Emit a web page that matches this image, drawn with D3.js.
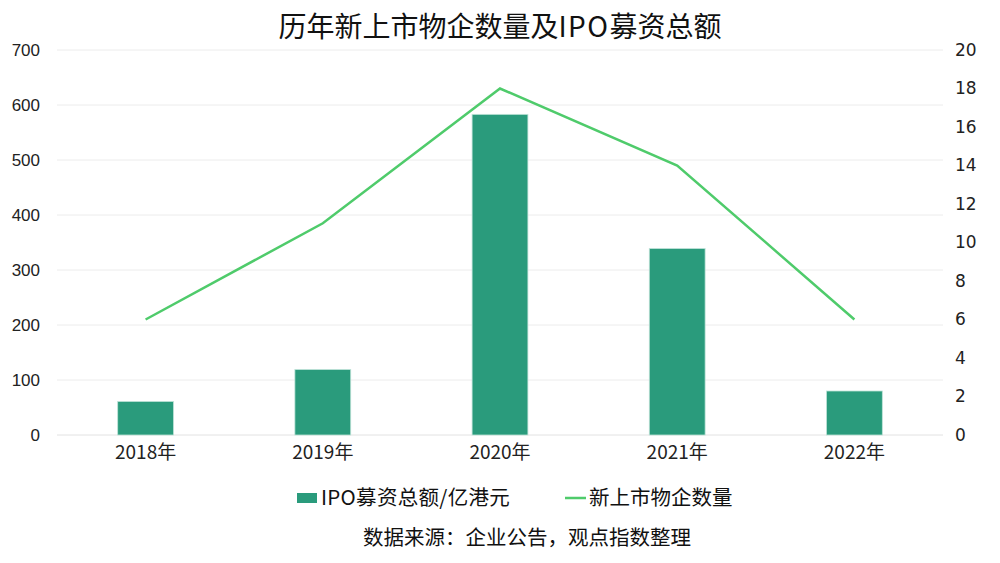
<!DOCTYPE html>
<html>
<head>
<meta charset="utf-8">
<script src="https://cdn.jsdelivr.net/npm/d3@7"></script>
<style>
  body { margin: 0; background: #fff; }
  text { font-family: "Noto Sans CJK SC", "Noto Sans", sans-serif; }
</style>
</head>
<body>
<div id="chart"></div>
<script>
// chart data
const years = ['2018年', '2019年', '2020年', '2021年', '2022年'];
const ipoAmount = [61, 119, 583, 339, 80];   // 亿港元
const newListings = [6, 11, 18, 14, 6];      // 家
const leftTicks = [0, 100, 200, 300, 400, 500, 600, 700];
const rightTicks = [0, 2, 4, 6, 8, 10, 12, 14, 16, 18, 20];

const width = 1000;
const height = 563;
const margin = { top: 50, right: 57, bottom: 128, left: 57 };
const barColor = '#2a9b7c';
const lineColor = '#4fcb6b';

const svg = d3.select('#chart')
  .append('svg')
  .attr('width', width)
  .attr('height', height);

const x = d3.scaleBand()
  .domain(years)
  .range([margin.left, width - margin.right])
  .padding(0);

const yLeft = d3.scaleLinear()
  .domain([0, 700])
  .range([height - margin.bottom, margin.top]);

const yRight = d3.scaleLinear()
  .domain([0, 20])
  .range([height - margin.bottom, margin.top]);

// title (latin part spaced a bit, like the half-width glyphs of the original)
const title = svg.append('text')
  .attr('x', width / 2)
  .attr('y', 37)
  .attr('text-anchor', 'middle')
  .attr('font-size', 28)
  .attr('fill', '#111');
title.append('tspan').text('历年新上市物企数量及');
title.append('tspan').attr('letter-spacing', 1.5).text('IPO');
title.append('tspan').text('募资总额');

// gridlines
svg.append('g')
  .selectAll('line')
  .data(leftTicks)
  .join('line')
  .attr('x1', margin.left)
  .attr('x2', width - margin.right)
  .attr('y1', (d) => yLeft(d))
  .attr('y2', (d) => yLeft(d))
  .attr('stroke', (d) => d === 0 ? '#e2e2e2' : '#ececec')
  .attr('stroke-width', 1);

// left axis
const leftAxis = svg.append('g')
  .attr('transform', `translate(${margin.left},0)`)
  .call(d3.axisLeft(yLeft).tickValues(leftTicks).tickSize(0).tickPadding(17));
leftAxis.select('.domain').remove();
leftAxis.selectAll('text')
  .attr('font-size', 17)
  .attr('fill', '#222')
  .style('font-family', '"Liberation Sans", Arial, sans-serif');

// right axis
const rightAxis = svg.append('g')
  .attr('transform', `translate(${width - margin.right},0)`)
  .call(d3.axisRight(yRight).tickValues(rightTicks).tickSize(0).tickPadding(12));
rightAxis.select('.domain').remove();
rightAxis.selectAll('text')
  .attr('font-size', 17)
  .attr('fill', '#222')
  .style('font-family', '"DejaVu Sans", sans-serif');

// x axis labels
const xAxis = svg.append('g')
  .attr('transform', `translate(0,${height - margin.bottom})`)
  .call(d3.axisBottom(x).tickSize(0).tickPadding(11));
xAxis.select('.domain').remove();
xAxis.selectAll('text')
  .attr('font-size', 19)
  .attr('fill', '#222');

// bars
const barW = x.bandwidth() * 0.315;
svg.append('g')
  .selectAll('rect')
  .data(ipoAmount)
  .join('rect')
  .attr('x', (d, i) => x(years[i]) + x.bandwidth() / 2 - barW / 2)
  .attr('y', (d) => yLeft(d))
  .attr('width', barW)
  .attr('height', (d) => yLeft(0) - yLeft(d))
  .attr('fill', barColor)
  .attr('stroke', '#bfe3d8')
  .attr('stroke-width', 0.8);

// line
const line = d3.line()
  .x((d, i) => x(years[i]) + x.bandwidth() / 2)
  .y((d) => yRight(d));

svg.append('path')
  .datum(newListings)
  .attr('d', line)
  .attr('fill', 'none')
  .attr('stroke', lineColor)
  .attr('stroke-width', 2.5)
  .attr('stroke-linejoin', 'miter');

// legend
const legend = svg.append('g').attr('transform', 'translate(0,498)');
legend.append('rect')
  .attr('x', 297)
  .attr('y', -5)
  .attr('width', 20)
  .attr('height', 10)
  .attr('fill', barColor);
legend.append('text')
  .attr('x', 321)
  .attr('y', 7)
  .attr('font-size', 20.5)
  .attr('fill', '#111')
  .attr('letter-spacing', 0.3)
  .text('IPO募资总额/亿港元');
legend.append('line')
  .attr('x1', 565)
  .attr('x2', 586)
  .attr('y1', 0)
  .attr('y2', 0)
  .attr('stroke', lineColor)
  .attr('stroke-width', 2.5);
legend.append('text')
  .attr('x', 589)
  .attr('y', 7)
  .attr('font-size', 20.5)
  .attr('fill', '#111')
  .text('新上市物企数量');

// source note
svg.append('text')
  .attr('x', 527)
  .attr('y', 545)
  .attr('text-anchor', 'middle')
  .attr('font-size', 20.5)
  .attr('fill', '#111')
  .text('数据来源：企业公告，观点指数整理');
</script>
</body>
</html>
